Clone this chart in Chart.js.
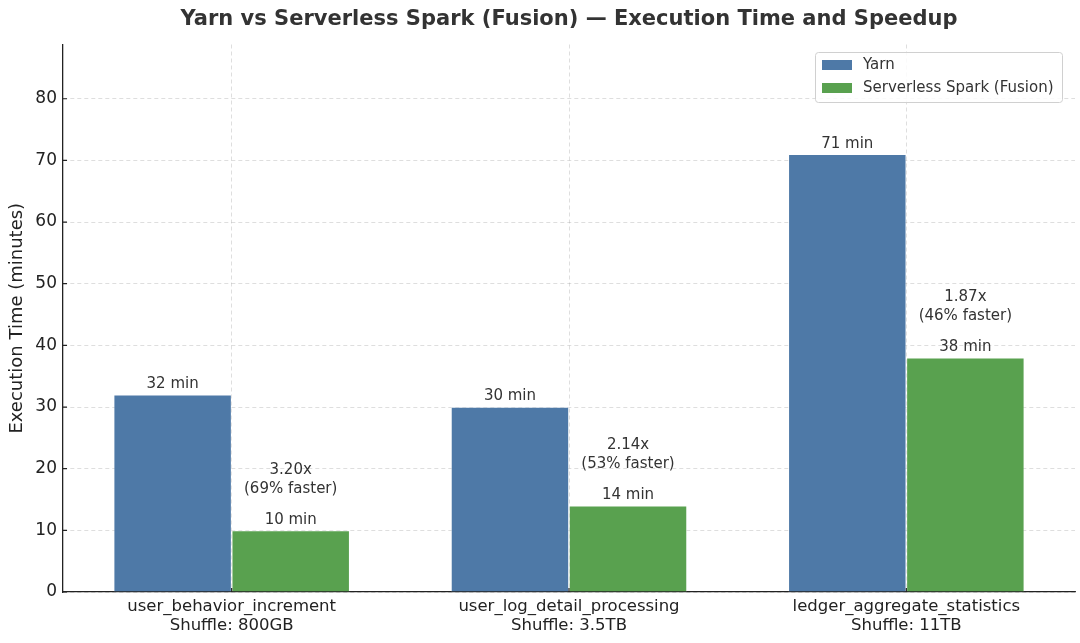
<!DOCTYPE html>
<html>
  <head>
    <title>Yarn vs Serverless Spark</title>
    <style>
      body { margin: 0; padding: 0; background: white; }
      .wrap { width: 1080px; height: 643px; }
    </style>
    <script src="https://cdn.jsdelivr.net/npm/chart.js"></script>
  </head>
  <body>
    <div class="wrap"><canvas id="chart" width="1080" height="643"></canvas></div>
    <script>
      // data
      const jobs = ["user_behavior_increment", "user_log_detail_processing", "ledger_aggregate_statistics"];
      const shuffle = ["800GB", "3.5TB", "11TB"];
      const yarn = [32, 30, 71];
      const fusion = [10, 14, 38];
      const yTicks = [0, 10, 20, 30, 40, 50, 60, 70, 80];

      const labels = jobs.map((j, i) => [j, "Shuffle: " + shuffle[i]]);
      const title = "Yarn vs Serverless Spark (Fusion) \u2014 Execution Time and Speedup";
      const font = "'DejaVu Sans', sans-serif";

      // title over the plot, value labels, speedup notes, inward ticks and the legend box
      const extras = {
        id: "extras",
        afterDatasetsDraw(chart) {
          const ctx = chart.ctx;
          const y = chart.scales.y;
          ctx.save();
          ctx.fillStyle = "#333";
          ctx.font = "15px " + font;
          ctx.textAlign = "center";
          ctx.textBaseline = "bottom";
          chart.data.datasets.forEach((ds, d) => {
            chart.getDatasetMeta(d).data.forEach((bar, i) => {
              ctx.fillText(ds.data[i] + " min", bar.x, bar.y - 3);
            });
          });
          const fm = chart.getDatasetMeta(1).data;
          fusion.forEach((v, i) => {
            const sp = yarn[i] / v;
            const pct = Math.round((1 - v / yarn[i]) * 100);
            const by = y.getPixelForValue(v + 5.5);
            ctx.fillText(sp.toFixed(2) + "x", fm[i].x, by - 19);
            ctx.fillText("(" + pct + "% faster)", fm[i].x, by);
          });
          ctx.restore();
        },
        afterDraw(chart) {
          const ctx = chart.ctx;
          const a = chart.chartArea;
          const x = chart.scales.x, y = chart.scales.y;
          ctx.save();
          ctx.fillStyle = "#333";
          ctx.font = "bold 21px " + font;
          ctx.textAlign = "center";
          ctx.textBaseline = "middle";
          ctx.fillText(title, (a.left + a.right) / 2, 20);

          ctx.strokeStyle = "#222";
          ctx.lineWidth = 1.2;
          ctx.beginPath();
          yTicks.forEach(t => {
            const py = y.getPixelForValue(t);
            ctx.moveTo(a.left, py);
            ctx.lineTo(a.left + 4, py);
          });
          jobs.forEach((j, i) => {
            const px = x.getPixelForValue(i);
            ctx.moveTo(px, a.bottom);
            ctx.lineTo(px, a.bottom - 4);
          });
          ctx.stroke();

          // legend
          const lx = 815, ly = 52, lw = 247, lh = 50;
          ctx.fillStyle = "rgba(255,255,255,0.85)";
          ctx.strokeStyle = "#d0d0d0";
          ctx.lineWidth = 1;
          ctx.beginPath();
          ctx.roundRect(lx + 0.5, ly + 0.5, lw, lh, 3);
          ctx.fill();
          ctx.stroke();
          ctx.font = "15px " + font;
          ctx.textAlign = "left";
          ctx.textBaseline = "middle";
          chart.data.datasets.forEach((ds, d) => {
            const ry = ly + 13 + d * 23;
            ctx.fillStyle = ds.backgroundColor;
            ctx.fillRect(lx + 7, ry - 5, 30, 10);
            ctx.fillStyle = "#333";
            ctx.fillText(ds.label, lx + 48, ry);
          });
          ctx.restore();
        }
      };

      new Chart(document.getElementById("chart"), {
        type: "bar",
        data: {
          labels: labels,
          datasets: [
            { label: "Yarn", data: yarn, backgroundColor: "#4e79a7" },
            { label: "Serverless Spark (Fusion)", data: fusion, backgroundColor: "#59a14f" }
          ]
        },
        options: {
          responsive: false,
          animation: false,
          devicePixelRatio: 1,
          layout: { padding: { left: 0, right: 5, top: 44.5, bottom: 0 } },
          datasets: {
            bar: {
              categoryPercentage: 0.7,
              barPercentage: 1.0,
              borderColor: "rgba(255,255,255,0.45)",
              borderWidth: 0.8
            }
          },
          plugins: {
            legend: { display: false },
            tooltip: { enabled: false },
            title: { display: false }
          },
          scales: {
            x: {
              z: 1,
              grid: {
                offset: false,
                drawTicks: false,
                color: "rgba(150,150,150,0.4)",
                lineWidth: 0.8
              },
              border: { display: true, color: "#222", width: 1.3, dash: [4, 3] },
              ticks: {
                color: "#222",
                padding: 6,
                font: { family: font, size: 16.5, lineHeight: 1.1 }
              },
              afterFit(scale) { scale.height = 51; }
            },
            y: {
              z: 1,
              min: 0,
              max: 88.8,
              grid: {
                drawTicks: false,
                color: "rgba(150,150,150,0.4)",
                lineWidth: 0.8
              },
              border: { display: true, color: "#222", width: 1.3, dash: [4, 3] },
              ticks: {
                stepSize: 10,
                includeBounds: false,
                color: "#222",
                padding: 6,
                font: { family: font, size: 17 }
              },
              title: {
                display: true,
                text: "Execution Time (minutes)",
                color: "#222",
                font: { family: font, size: 18 },
                padding: { top: 7, bottom: 0 }
              },
              afterFit(scale) { scale.width = 63; }
            }
          }
        },
        plugins: [extras]
      });
    </script>
  </body>
</html>
